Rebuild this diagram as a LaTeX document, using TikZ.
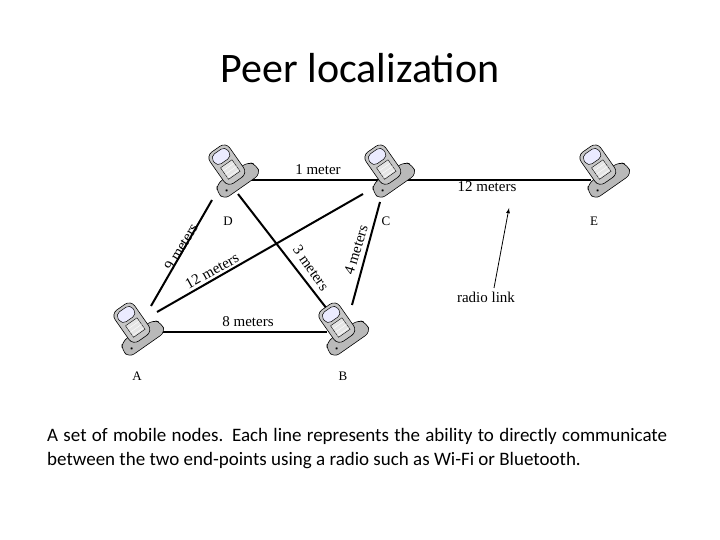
\documentclass[tikz,border=0pt]{standalone}
\usepackage{fontspec}
\setmainfont{Liberation Serif}
\newfontfamily\calfont{Carlito}
\begin{document}
\begin{tikzpicture}[x=1pt,y=-1pt,
  link/.style={line width=2pt,black},
  lab/.style={font=\fontsize{15}{15}\selectfont,inner sep=1pt},
  letter/.style={font=\fontsize{13}{13}\selectfont},
  phone/.pic={
    \begin{scope}[rotate=35]
      \fill[gray!55,draw=black,line width=0.6pt,rounded corners=6pt] (-24,8) -- (-19,1) -- (19,1) -- (24,8) -- (22,18) -- (-22,18) -- cycle;
      \fill[gray!45,draw=black,line width=0.6pt,rounded corners=7pt] (-12,-28) rectangle (12,10);
      \fill[blue!8,draw=black,line width=0.5pt,rounded corners=5pt] (-9,-25) rectangle (9,-13);
      \fill[gray!20,draw=black,line width=0.4pt] (-7,-10) rectangle (7,4);
      \foreach \i in {-6,-2,2} \draw[white,line width=0.4pt] (-7,\i) -- (7,\i);
      \fill[black] (-15,12) circle (1.3);
    \end{scope}
  }]
\useasboundingbox (0,0) rectangle (720,540);
\node[font=\calfont\fontsize{42}{42}\selectfont] (title) at (360,68) {Peer localization};
\coordinate (D) at (232,172);
\coordinate (C) at (388,172);
\coordinate (E) at (603,172);
\coordinate (A) at (137,330);
\coordinate (B) at (342,330);
\draw[link] ([shift={(12,8)}]D) -- ([shift={(-8,8)}]C);
\draw[link] ([shift={(12,8)}]C) -- ([shift={(-12,8)}]E);
\draw[link] ([shift={(-20,28)}]D) -- ([shift={(14,-24)}]A);
\draw[link] ([shift={(20,-18)}]A) -- ([shift={(-25,22)}]C);
\draw[link] ([shift={(6,22)}]D) -- ([shift={(-8,-12)}]B);
\draw[link] ([shift={(-8,30)}]C) -- ([shift={(10,-25)}]B);
\draw[link] ([shift={(15,2)}]A) -- ([shift={(-15,2)}]B);
\foreach \n in {D,C,E,A,B} \pic at (\n) {phone};
\node[lab] (l1) at (318,170) {1 meter};
\node[lab] (l2) at (487,187) {12 meters};
\node[lab,rotate=59] (l3) at (181,247) {9 meters};
\node[lab,rotate=29] (l4) at (212,271) {12 meters};
\node[lab,rotate=-55] (l5) at (311,268) {3 meters};
\node[lab,rotate=73] (l6) at (356,250) {4 meters};
\node[lab] (l7) at (248,322) {8 meters};
\node[letter] (tD) at (228,221) {D};
\node[letter] (tC) at (386,221) {C};
\node[letter] (tE) at (594,221) {E};
\node[letter] (tA) at (137,376) {A};
\node[letter] (tB) at (343,376) {B};
\node[lab] (rl) at (486,297) {radio link};
\draw[line width=0.8pt,-latex] (494,288) -- (509,208);
\node[font=\calfont\fontsize{19}{24}\selectfont,text width=620pt,align=justify,anchor=north west,inner sep=0pt] (cap) at (47,428)
 {A set of mobile nodes. Each line represents the ability to directly communicate between the two end-points using a radio such as Wi-Fi or Bluetooth.};
\end{tikzpicture}
\end{document}
